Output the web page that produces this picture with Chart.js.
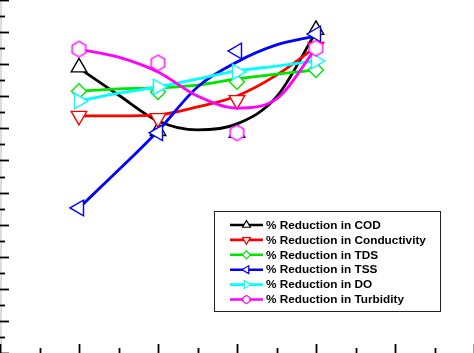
<!DOCTYPE html>
<html><head><meta charset="utf-8">
<script src="https://cdn.jsdelivr.net/npm/chart.js@4/dist/chart.umd.min.js"></script>
<style>html,body{margin:0;padding:0;background:#fff;overflow:hidden}canvas{display:block}</style>
</head><body>
<canvas id="c" width="474" height="353"></canvas>
<script>
// ---- data ----
const xPoints = [1, 2, 3, 4];
const xCurve = [1, 1.5, 2, 2.5, 3, 3.5, 4];
const seriesLabels = ['% Reduction in COD', '% Reduction in Conductivity', '% Reduction in TDS',
  '% Reduction in TSS', '% Reduction in DO', '% Reduction in Turbidity'];
const codPoints = [89.0, 69.2, 68.6, 100.7];
const conductivityPoints = [73.9, 73.2, 78.8, 95.4];
const tdsPoints = [81.6, 81.3, 84.5, 88.2];
const tssPoints = [45.2, 68.6, 94.1, 99.4];
const doPoints = [78.5, 82.9, 87.6, 91.0];
const turbidityPoints = [94.7, 90.4, 68.6, 95.0];
// smoothed (fitted) curves as seen in the picture
const codCurve = [88.8, 80.4, 72.3, 69.5, 71.4, 79.8, 100.0];
const conductivityCurve = [73.9, 73.9, 74.2, 76.7, 80.1, 86.6, 95.4];
const tdsCurve = [81.6, 82.3, 82.6, 83.5, 85.4, 86.9, 88.2];
const tssCurve = [45.2, 57.0, 69.2, 82.9, 90.7, 96.0, 98.8];
const doCurve = [78.5, 81.0, 82.9, 85.4, 87.9, 89.4, 91.0];
const turbidityCurve = [94.7, 92.2, 87.6, 80.1, 76.3, 79.2, 95.0];
// axis ticks
const xTickValues = [0, 0.5, 1, 1.5, 2, 2.5, 3, 3.5, 4, 4.5, 5, 5.5, 6];
const yTickValues = [0,5,10,15,20,25,30,35,40,45,50,55,60,65,70,75,80,85,90,95,100,105,110];

// ---- styles ----
const colors = ['#000000', '#ff0000', '#00e600', '#0000ff', '#00ffff', '#ff00ff'];
const styles = [
  {pointStyle: 'triangle', rotation: 0},
  {pointStyle: 'triangle', rotation: 180},
  {pointStyle: 'rectRot', rotation: 0},
  {pointStyle: 'triangle', rotation: 270},
  {pointStyle: 'triangle', rotation: 90},
  {pointStyle: 'hexagon', rotation: 0}
];

function hexCanvas(r, color, lw) {
  const c = document.createElement('canvas');
  const s = Math.ceil(2 * r + lw * 2 + 2);
  c.width = s; c.height = s;
  const g = c.getContext('2d');
  g.beginPath();
  for (let k = 0; k < 6; k++) {
    const a = -Math.PI / 2 + k * Math.PI / 3;
    const px = s / 2 + r * Math.cos(a), py = s / 2 + r * Math.sin(a);
    k ? g.lineTo(px, py) : g.moveTo(px, py);
  }
  g.closePath();
  g.fillStyle = '#fff'; g.fill();
  g.strokeStyle = color; g.lineWidth = lw; g.stroke();
  return c;
}
const hexBig = hexCanvas(7.8, colors[5], 1.4);
const hexSmall = hexCanvas(4, colors[5], 1.2);

const pointSets = [codPoints, conductivityPoints, tdsPoints, tssPoints, doPoints, turbidityPoints];
const curveSets = [codCurve, conductivityCurve, tdsCurve, tssCurve, doCurve, turbidityCurve];

const datasets = [];
seriesLabels.forEach((lab, i) => {
  const ord = (6 - i) * 2;
  datasets.push({
    label: lab + ' curve',
    data: xCurve.map((x, j) => ({x, y: curveSets[i][j]})),
    borderColor: colors[i], borderWidth: 2.8, pointRadius: 0,
    cubicInterpolationMode: 'monotone', fill: false, order: ord
  });
  datasets.push({
    label: lab,
    data: xPoints.map((x, j) => ({x, y: pointSets[i][j]})),
    showLine: false,
    pointStyle: styles[i].pointStyle === 'hexagon' ? hexBig : styles[i].pointStyle,
    rotation: styles[i].rotation,
    pointRadius: styles[i].pointStyle === 'rectRot' ? 7.5 : 9,
    pointBorderColor: colors[i], pointBackgroundColor: '#ffffff', pointBorderWidth: 1.4,
    order: ord - 1
  });
});

function drawMarker(ctx, idx, x, y, r) {
  const st = styles[idx];
  if (st.pointStyle === 'hexagon') {
    ctx.drawImage(hexSmall, x - hexSmall.width / 2, y - hexSmall.height / 2);
    return;
  }
  ctx.save();
  ctx.beginPath();
  if (st.pointStyle === 'rectRot') {
    ctx.moveTo(x, y - r); ctx.lineTo(x + r, y); ctx.lineTo(x, y + r); ctx.lineTo(x - r, y);
  } else {
    let rad = st.rotation * Math.PI / 180;
    for (let k = 0; k < 3; k++) {
      const px = x + Math.sin(rad) * r, py = y - Math.cos(rad) * r;
      k ? ctx.lineTo(px, py) : ctx.moveTo(px, py);
      rad += 2 * Math.PI / 3;
    }
  }
  ctx.closePath();
  ctx.fillStyle = '#fff'; ctx.fill();
  ctx.strokeStyle = colors[idx]; ctx.lineWidth = 1.2; ctx.stroke();
  ctx.restore();
}

const ticksPlugin = {
  id: 'inwardTicks',
  afterDraw(chart) {
    const ctx = chart.ctx, xs = chart.scales.x, ys = chart.scales.y, a = chart.chartArea;
    ctx.save();
    ctx.strokeStyle = '#dddddd'; ctx.lineWidth = 2;
    ctx.beginPath(); ctx.moveTo(a.left + 1, a.top); ctx.lineTo(a.left + 1, a.bottom); ctx.stroke();
    ctx.strokeStyle = '#000'; ctx.lineWidth = 1.8;
    yTickValues.forEach(v => {
      const py = Math.round(ys.getPixelForValue(v)) + 0.5;
      const len = v % 10 === 0 ? 9 : 5;
      ctx.beginPath(); ctx.moveTo(a.left, py); ctx.lineTo(a.left + len, py); ctx.stroke();
    });
    xTickValues.forEach(v => {
      const px = Math.round(xs.getPixelForValue(v)) + 0.5;
      const len = Number.isInteger(v) ? 9 : 5;
      ctx.beginPath(); ctx.moveTo(px, a.bottom); ctx.lineTo(px, a.bottom - len); ctx.stroke();
    });
    ctx.restore();
  }
};

const legendPlugin = {
  id: 'boxLegend',
  afterDraw(chart) {
    const ctx = chart.ctx;
    const bx = 214.5, by = 211.5, bw = 226, bh = 100;
    ctx.save();
    ctx.fillStyle = '#fff'; ctx.fillRect(bx, by, bw, bh);
    ctx.strokeStyle = '#222'; ctx.lineWidth = 1; ctx.strokeRect(bx, by, bw, bh);
    ctx.font = 'bold 11.8px "Liberation Sans", Arial, sans-serif';
    ctx.textBaseline = 'middle'; ctx.fillStyle = '#000';
    seriesLabels.forEach((lab, i) => {
      const y = 225 + i * 14.9;
      ctx.strokeStyle = colors[i]; ctx.lineWidth = 2.6;
      ctx.beginPath(); ctx.moveTo(230, y); ctx.lineTo(263, y); ctx.stroke();
      drawMarker(ctx, i, 246.5, y, styles[i].pointStyle === 'rectRot' ? 4 : 4.5);
      ctx.fillStyle = '#000';
      ctx.fillText(lab, 266, y + 0.5);
    });
    ctx.restore();
  }
};

new Chart(document.getElementById('c'), {
  type: 'line',
  data: {datasets},
  options: {
    responsive: false, animation: false,
    layout: {padding: 0, autoPadding: false},
    plugins: {legend: {display: false}, tooltip: {enabled: false}},
    scales: {
      x: {type: 'linear', min: 0, max: 6, display: false},
      y: {type: 'linear', min: 0, max: 110, display: false}
    }
  },
  plugins: [ticksPlugin, legendPlugin]
});
</script>
</body></html>
